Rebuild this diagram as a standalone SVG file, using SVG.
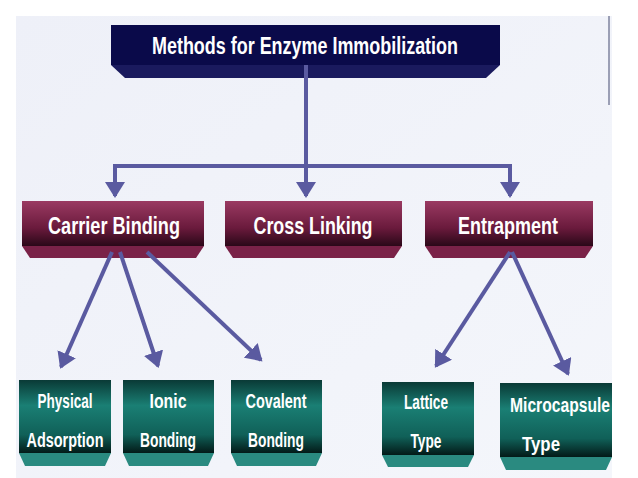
<svg xmlns="http://www.w3.org/2000/svg" width="638" height="478" viewBox="0 0 638 478">
<defs>
<linearGradient id="bg" x1="0" y1="0" x2="1" y2="1"><stop offset="0" stop-color="#eef0f8"/><stop offset="1" stop-color="#f4f6fb"/></linearGradient>
<linearGradient id="red" x1="0" y1="0" x2="0" y2="1"><stop offset="0" stop-color="#9a3a62"/><stop offset="0.6" stop-color="#6a1a3c"/><stop offset="1" stop-color="#2a0818"/></linearGradient>
<linearGradient id="grn" x1="0" y1="0" x2="0" y2="1"><stop offset="0" stop-color="#0a3a36"/><stop offset="0.35" stop-color="#1a7f74"/><stop offset="0.75" stop-color="#106058"/><stop offset="1" stop-color="#031a18"/></linearGradient>
<marker id="ah" markerWidth="5" markerHeight="5" refX="3.5" refY="2.5" orient="auto" markerUnits="strokeWidth"><path d="M0,0 L4,2.5 L0,5 Z" fill="#5a5aa0"/></marker>
<style>
text{font-family:"Liberation Sans",Arial,sans-serif;font-weight:bold;fill:#fff;text-anchor:middle}
.t{font-size:23px}.m{font-size:23px}.b{font-size:20px}
.c{stroke:#5a5aa0;stroke-width:4;fill:none;marker-end:url(#ah)}
.l{stroke:#5a5aa0;stroke-width:4;fill:none}
</style>
</defs>
<rect width="638" height="478" fill="#fff"/>
<rect x="16" y="16" width="596" height="462" fill="url(#bg)"/>
<line x1="609" y1="16" x2="609" y2="105" stroke="#444a70" stroke-width="1"/>
<g id="top"><polygon points="111,25 500,25 500,65 486,78 125,78 111,65" fill="#1a1a5e"/><rect x="111" y="25" width="389" height="40" fill="#0a0a4a"/><text class="t" x="305" y="54" textLength="306" lengthAdjust="spacingAndGlyphs">Methods for Enzyme Immobilization</text></g>
<g id="carrier"><polygon points="22,201 204,201 204,246 196,258 30,258 22,246" fill="#7a2248"/><rect x="22" y="201" width="182" height="45" fill="url(#red)"/><text class="m" x="114" y="234" textLength="132" lengthAdjust="spacingAndGlyphs">Carrier Binding</text></g>
<g id="cross"><polygon points="225,201 402,201 402,246 394,258 233,258 225,246" fill="#7a2248"/><rect x="225" y="201" width="177" height="45" fill="url(#red)"/><text class="m" x="313" y="234" textLength="119" lengthAdjust="spacingAndGlyphs">Cross Linking</text></g>
<g id="entrap"><polygon points="425,201 593,201 593,246 585,258 433,258 425,246" fill="#7a2248"/><rect x="425" y="201" width="168" height="45" fill="url(#red)"/><text class="m" x="508" y="234" textLength="100" lengthAdjust="spacingAndGlyphs">Entrapment</text></g>
<g id="phys"><polygon points="19,380 111,380 111,453 105,466 25,466 19,453" fill="#2a8a80"/><rect x="19" y="380" width="92" height="73" fill="url(#grn)"/><text class="b" x="65" y="408" textLength="55" lengthAdjust="spacingAndGlyphs">Physical</text><text class="b" x="65" y="447" textLength="77" lengthAdjust="spacingAndGlyphs">Adsorption</text></g>
<g id="ionic"><polygon points="123,380 214,380 214,453 208,466 129,466 123,453" fill="#2a8a80"/><rect x="123" y="380" width="91" height="73" fill="url(#grn)"/><text class="b" x="168" y="408" textLength="37" lengthAdjust="spacingAndGlyphs">Ionic</text><text class="b" x="168" y="447" textLength="56" lengthAdjust="spacingAndGlyphs">Bonding</text></g>
<g id="cov"><polygon points="231,380 322,380 322,453 316,466 237,466 231,453" fill="#2a8a80"/><rect x="231" y="380" width="91" height="73" fill="url(#grn)"/><text class="b" x="276" y="408" textLength="61" lengthAdjust="spacingAndGlyphs">Covalent</text><text class="b" x="276" y="447" textLength="56" lengthAdjust="spacingAndGlyphs">Bonding</text></g>
<g id="lattice"><polygon points="382,382 474,382 474,455 468,467 388,467 382,455" fill="#2a8a80"/><rect x="382" y="382" width="92" height="73" fill="url(#grn)"/><text class="b" x="426" y="409" textLength="44" lengthAdjust="spacingAndGlyphs">Lattice</text><text class="b" x="426" y="448" textLength="31" lengthAdjust="spacingAndGlyphs">Type</text></g>
<g id="micro"><polygon points="500,383 612,383 612,457 606,470 506,470 500,457" fill="#2a8a80"/><rect x="500" y="383" width="112" height="74" fill="url(#grn)"/><text class="b" x="560" y="412" textLength="100" lengthAdjust="spacingAndGlyphs">Microcapsule</text><text class="b" x="541" y="451" textLength="38" lengthAdjust="spacingAndGlyphs">Type</text></g>
<g id="connectors">
<line class="l" x1="306" y1="65" x2="306" y2="166"/>
<polyline class="l" points="115,180 115,166 510,166 510,180"/>
<line class="c" x1="115" y1="166" x2="115" y2="196"/>
<line class="c" x1="306" y1="166" x2="306" y2="196"/>
<line class="c" x1="510" y1="166" x2="510" y2="196"/>
<line class="c" x1="112" y1="252" x2="61" y2="367"/>
<line class="c" x1="120" y1="252" x2="158" y2="366"/>
<line class="c" x1="147" y1="252" x2="261" y2="360"/>
<line class="c" x1="510" y1="252" x2="436" y2="366"/>
<line class="c" x1="512" y1="252" x2="568" y2="374"/>
</g>
</svg>
